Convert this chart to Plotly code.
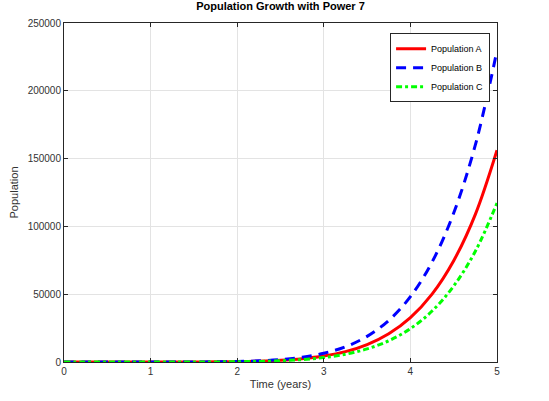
import plotly.graph_objects as go

time_years = [0, 0.25, 0.5, 0.75, 1, 1.25, 1.5, 1.75, 2, 2.25, 2.5, 2.75,
              3, 3.25, 3.5, 3.75, 4, 4.25, 4.5, 4.75, 5]
pop_a = [0, 0, 0.02, 0.27, 2, 9.5, 34, 100, 256, 584, 1221, 2386,
         4374, 7635, 12868, 20858, 32768, 50106, 74734, 108906, 156250]
pop_b = [0, 0, 0.02, 0.39, 2.9, 14, 50, 148, 376, 858, 1794, 3507,
         6430, 11223, 18916, 30661, 48169, 73656, 109859, 160092, 229688]
pop_c = [0, 0, 0.01, 0.2, 1.5, 7.2, 25.6, 75, 192, 438, 916, 1790,
         3281, 5726, 9651, 15643, 24576, 37580, 56050, 81680, 117188]
x_ticks = [0, 1, 2, 3, 4, 5]
y_ticks = [0, 50000, 100000, 150000, 200000, 250000]

fig = go.Figure()
fig.add_trace(go.Scatter(x=time_years, y=pop_a, mode="lines", name="Population A",
                         line=dict(color="#ff0000", width=3, shape="spline")))
fig.add_trace(go.Scatter(x=time_years, y=pop_b, mode="lines", name="Population B",
                         line=dict(color="#0000ff", width=3, dash="10px,7px", shape="spline")))
fig.add_trace(go.Scatter(x=time_years, y=pop_c, mode="lines", name="Population C",
                         line=dict(color="#00ff00", width=3, dash="6px,3px,3px,3px", shape="spline")))

axis_common = dict(showline=True, linecolor="#262626", linewidth=1, mirror="ticks",
                   ticks="inside", ticklen=4, tickcolor="#262626",
                   showgrid=True, gridcolor="#e3e3e3", gridwidth=1, zeroline=False,
                   tickfont=dict(family="Liberation Sans", size=10, color="#333333"))

fig.update_layout(
    width=549, height=401,
    margin=dict(l=64, r=52, t=23, b=36),
    paper_bgcolor="white", plot_bgcolor="white",
    title=dict(text="<b>Population Growth with Power 7</b>", x=0.5, xref="paper",
               y=0.995, yanchor="top",
               font=dict(family="Liberation Sans", size=11, color="black")),
    xaxis=dict(range=[0, 5], tickvals=x_ticks, ticktext=[str(v) for v in x_ticks],
               title=dict(text="Time (years)", standoff=4,
                          font=dict(family="Liberation Sans", size=11, color="#333333")),
               **axis_common),
    yaxis=dict(range=[0, 250000], tickvals=y_ticks, ticktext=[str(v) for v in y_ticks],
               title=dict(text="Population", standoff=6,
                          font=dict(family="Liberation Sans", size=11, color="#333333")),
               **axis_common),
    legend=dict(x=0.984, y=0.97, xanchor="right", yanchor="top",
                bgcolor="white", bordercolor="#262626", borderwidth=1,
                font=dict(family="Liberation Sans", size=9, color="black"),
                tracegroupgap=0, itemwidth=30),
    showlegend=True,
)

fig.write_html("out.html", config={"displayModeBar": False},
               post_script="document.body.style.margin='0';document.body.style.overflow='hidden';")
